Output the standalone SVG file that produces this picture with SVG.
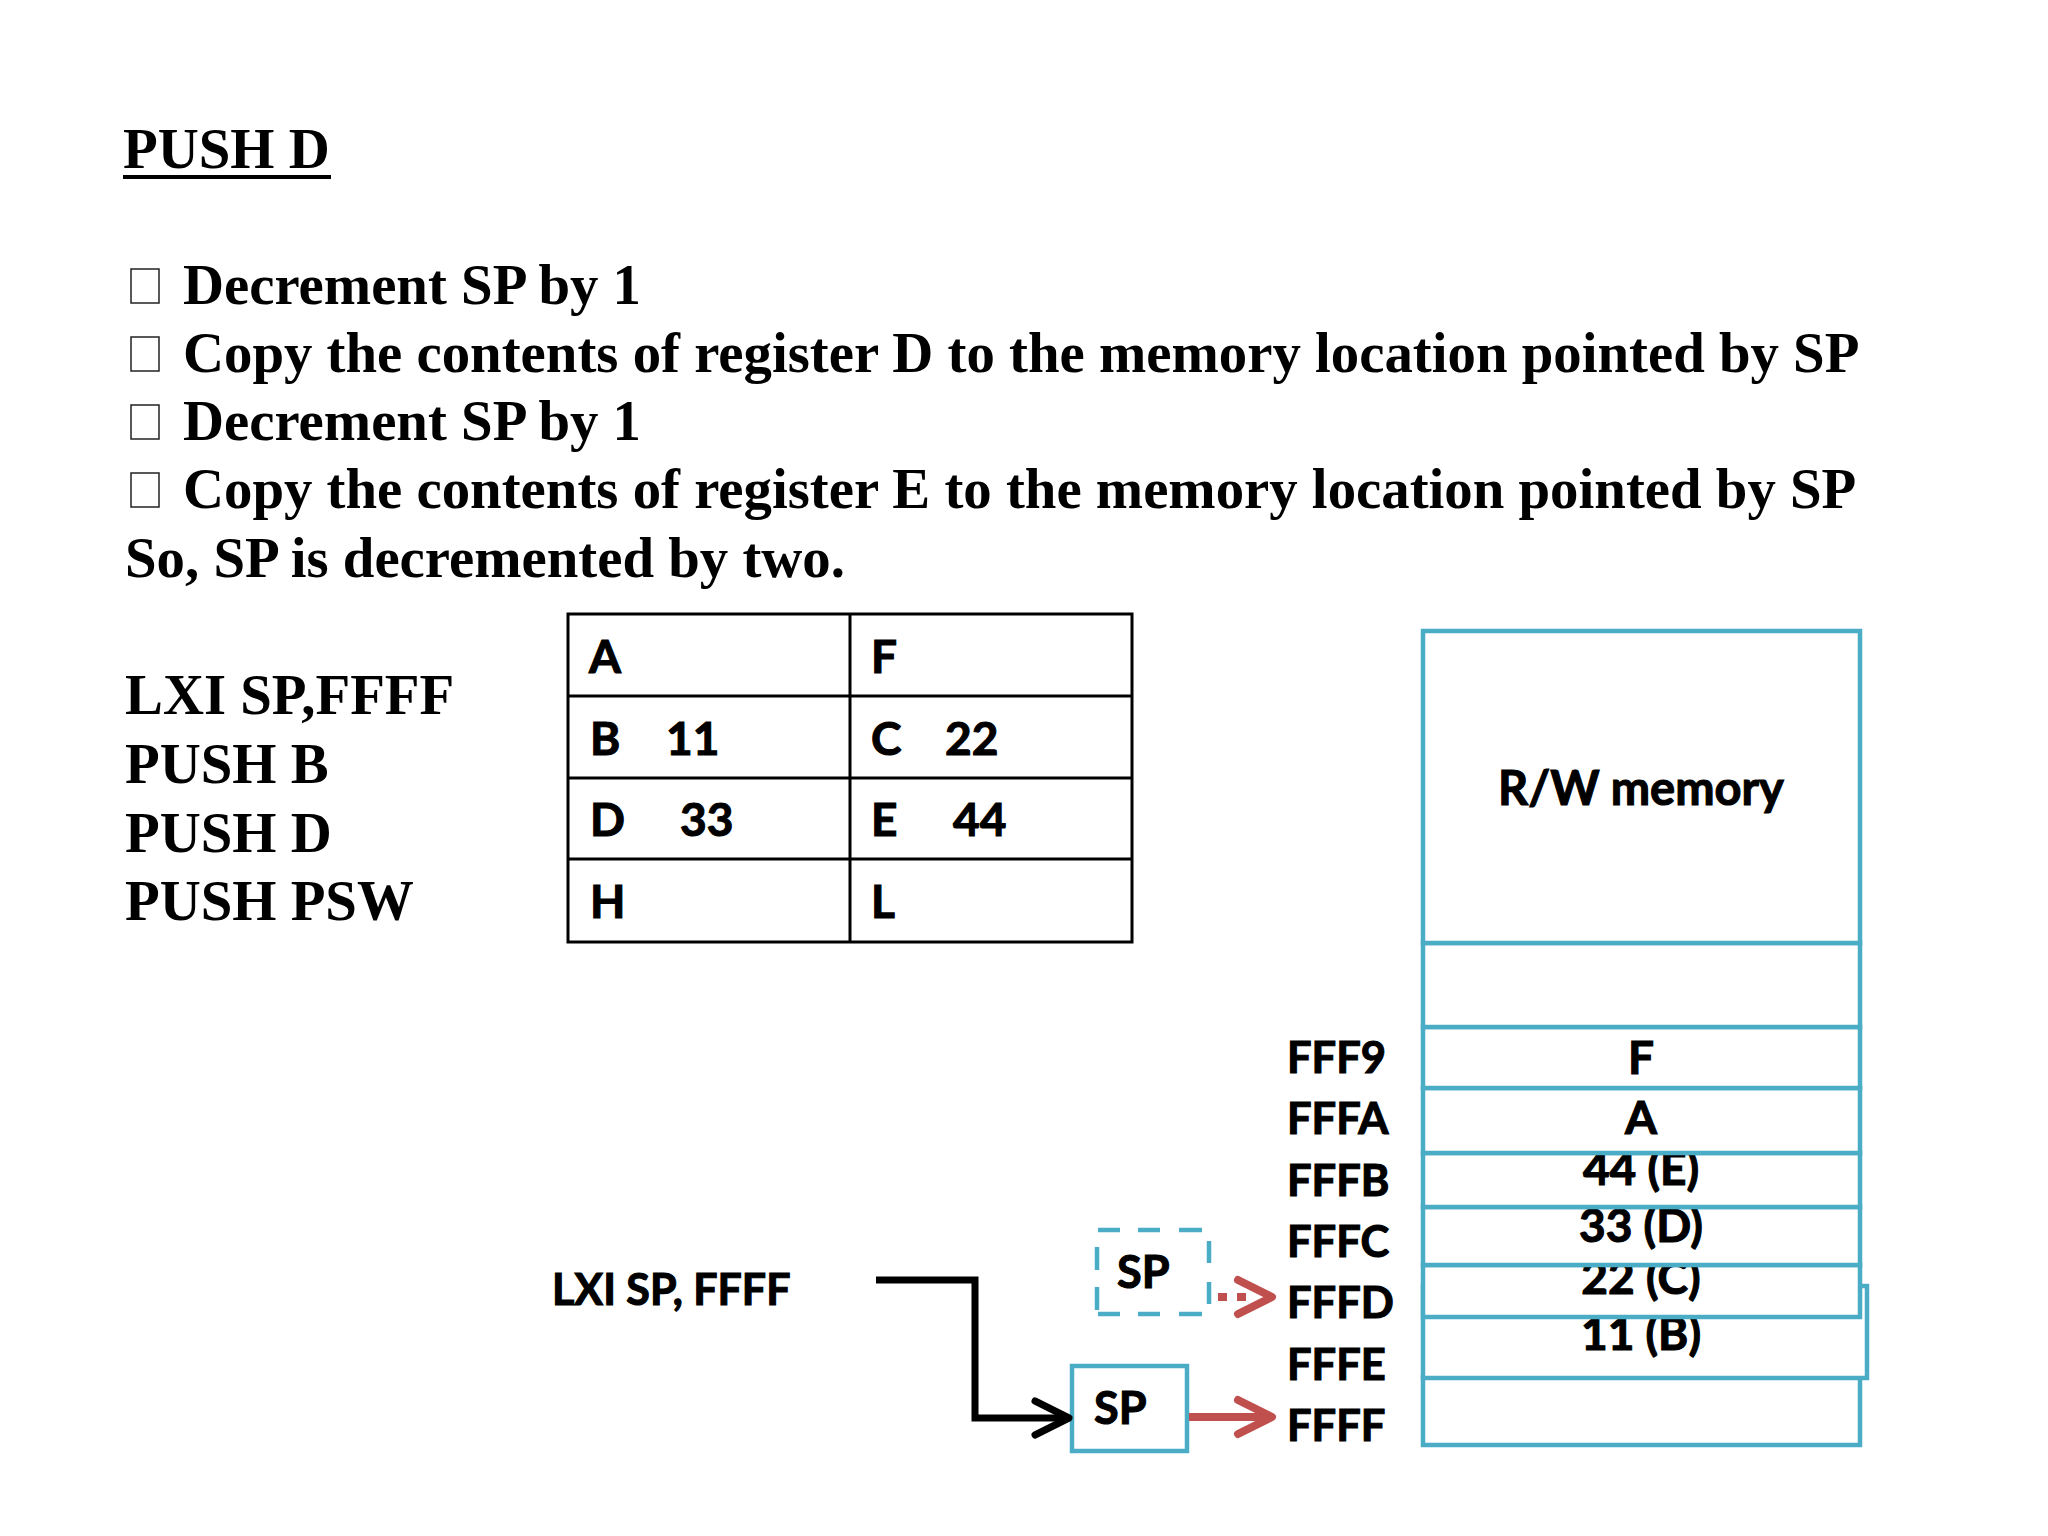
<svg xmlns="http://www.w3.org/2000/svg" xmlns:xlink="http://www.w3.org/1999/xlink" width="2048" height="1536" viewBox="0 0 2048 1536">
<style>
.tnr{font-family:"Liberation Serif","Times New Roman",serif;font-weight:bold;font-size:56.8px;fill:#000}
.cal{font-family:Lato,"Open Sans","Liberation Sans",sans-serif;font-weight:bold;fill:#000;stroke:#000;stroke-width:1.1}
.reg{font-size:46px}
.mtxt{font-size:46px;text-anchor:middle}
.addr{font-size:43.5px}
.mem{fill:#fff;stroke:#4BACC6;stroke-width:4.5}
.tofu{fill:none;stroke:#222;stroke-width:1.5}
.grid{fill:none;stroke:#000;stroke-width:3}
.dash{fill:none;stroke:#4BACC6;stroke-width:4.5}
.red{fill:none;stroke:#C0504D;stroke-width:8;stroke-linecap:round;stroke-linejoin:round}
.blk{fill:none;stroke:#000;stroke-width:7;stroke-linejoin:miter}
.blkh{fill:none;stroke:#000;stroke-width:7;stroke-linecap:round;stroke-linejoin:round}
</style>
<defs>
<path id="chev" d="M-34,-17 L0,0 L-34,17"/>
</defs>
<rect width="2048" height="1536" fill="#fff"/>

<g id="title">
<text class="tnr" x="123" y="168">PUSH D</text>
<rect x="123" y="175" width="208" height="4" fill="#000"/>
</g>

<g id="steps">
<rect class="tofu" x="131" y="269" width="28" height="34"/>
<text class="tnr" x="183" y="304">Decrement SP by 1</text>
<rect class="tofu" x="131" y="337" width="28" height="34"/>
<text class="tnr" x="183" y="372">Copy the contents of register D to the memory location pointed by SP</text>
<rect class="tofu" x="131" y="405" width="28" height="34"/>
<text class="tnr" x="183" y="440">Decrement SP by 1</text>
<rect class="tofu" x="131" y="473" width="28" height="34"/>
<text class="tnr" x="183" y="508">Copy the contents of register E to the memory location pointed by SP</text>
<text class="tnr" x="125" y="577">So, SP is decremented by two.</text>
</g>

<g id="program">
<text class="tnr" x="125" y="714">LXI SP,FFFF</text>
<text class="tnr" x="125" y="783">PUSH B</text>
<text class="tnr" x="125" y="852">PUSH D</text>
<text class="tnr" x="125" y="920">PUSH PSW</text>
</g>

<g id="registers">
<rect class="grid" x="568" y="614" width="564" height="328"/>
<path class="grid" d="M568,696H1132M568,778H1132M568,859H1132M850,614V942"/>
<text class="cal reg" x="589" y="673">A</text>
<text class="cal reg" x="871" y="673">F</text>
<text class="cal reg" x="590" y="755">B <tspan x="666">11</tspan></text>
<text class="cal reg" x="871" y="755">C <tspan x="945">22</tspan></text>
<text class="cal reg" x="590" y="836">D <tspan x="680">33</tspan></text>
<text class="cal reg" x="871" y="836">E <tspan x="953">44</tspan></text>
<text class="cal reg" x="590" y="918">H</text>
<text class="cal reg" x="871" y="918">L</text>
</g>

<g id="memory">
<g id="mem-FFFF"><rect class="mem" x="1423" y="1377" width="437" height="68"/></g>
<g id="mem-FFFE"><rect class="mem" x="1423" y="1286" width="444" height="92"/><text class="cal mtxt" x="1641" y="1350">11 (B)</text></g>
<g id="mem-FFFD"><rect class="mem" x="1423" y="1265" width="437" height="52"/><text class="cal mtxt" x="1641" y="1294">22 (C)</text></g>
<g id="mem-FFFC"><rect class="mem" x="1423" y="1207" width="437" height="58"/><text class="cal mtxt" x="1641" y="1242">33 (D)</text></g>
<g id="mem-FFFB"><rect class="mem" x="1423" y="1153" width="437" height="54"/><text class="cal mtxt" x="1641" y="1185">44 (E)</text></g>
<g id="mem-FFFA"><rect class="mem" x="1423" y="1088" width="437" height="65"/><text class="cal mtxt" x="1641" y="1134">A</text></g>
<g id="mem-FFF9"><rect class="mem" x="1423" y="1027" width="437" height="61"/><text class="cal mtxt" x="1641" y="1074">F</text></g>
<g id="mem-empty"><rect class="mem" x="1423" y="943" width="437" height="84"/></g>
<g id="mem-rw"><rect class="mem" x="1423" y="631" width="437" height="312"/><text class="cal mtxt" x="1641" y="805" style="font-size:47px">R/W memory</text></g>
</g>

<g id="addresses">
<text class="cal addr" x="1287" y="1073">FFF9</text>
<text class="cal addr" x="1287" y="1134">FFFA</text>
<text class="cal addr" x="1287" y="1196">FFFB</text>
<text class="cal addr" x="1287" y="1257">FFFC</text>
<text class="cal addr" x="1287" y="1318">FFFD</text>
<text class="cal addr" x="1287" y="1380">FFFE</text>
<text class="cal addr" x="1287" y="1441">FFFF</text>
</g>

<g id="lxi-label">
<text class="cal addr" x="552" y="1305" style="font-size:43px">LXI SP, FFFF</text>
</g>

<g id="sp-new">
<path class="dash" d="M1098,1230H1120M1138,1230H1160M1179,1230H1202M1098,1314H1120M1138,1314H1160M1179,1314H1202M1097,1247V1270M1097,1287V1310M1209,1241V1263M1209,1282V1304"/>
<text class="cal addr" x="1117" y="1288" style="font-size:45px">SP</text>
</g>

<g id="sp-old">
<rect class="mem" x="1072" y="1366" width="115" height="85"/>
<text class="cal addr" x="1094" y="1424" style="font-size:45px">SP</text>
</g>

<g id="connectors">
<path class="blk" d="M876,1280H975V1418H1066"/>
<use xlink:href="#chev" class="blkh" transform="translate(1069,1418)"/>
<path class="red" d="M1189,1417H1268" style="stroke-linecap:butt"/>
<use xlink:href="#chev" class="red" transform="translate(1272,1417)"/>
<path class="red" d="M1218,1297H1246" style="stroke-linecap:butt;stroke-dasharray:9 10"/>
<use xlink:href="#chev" class="red" transform="translate(1272,1297)"/>
</g>
</svg>
